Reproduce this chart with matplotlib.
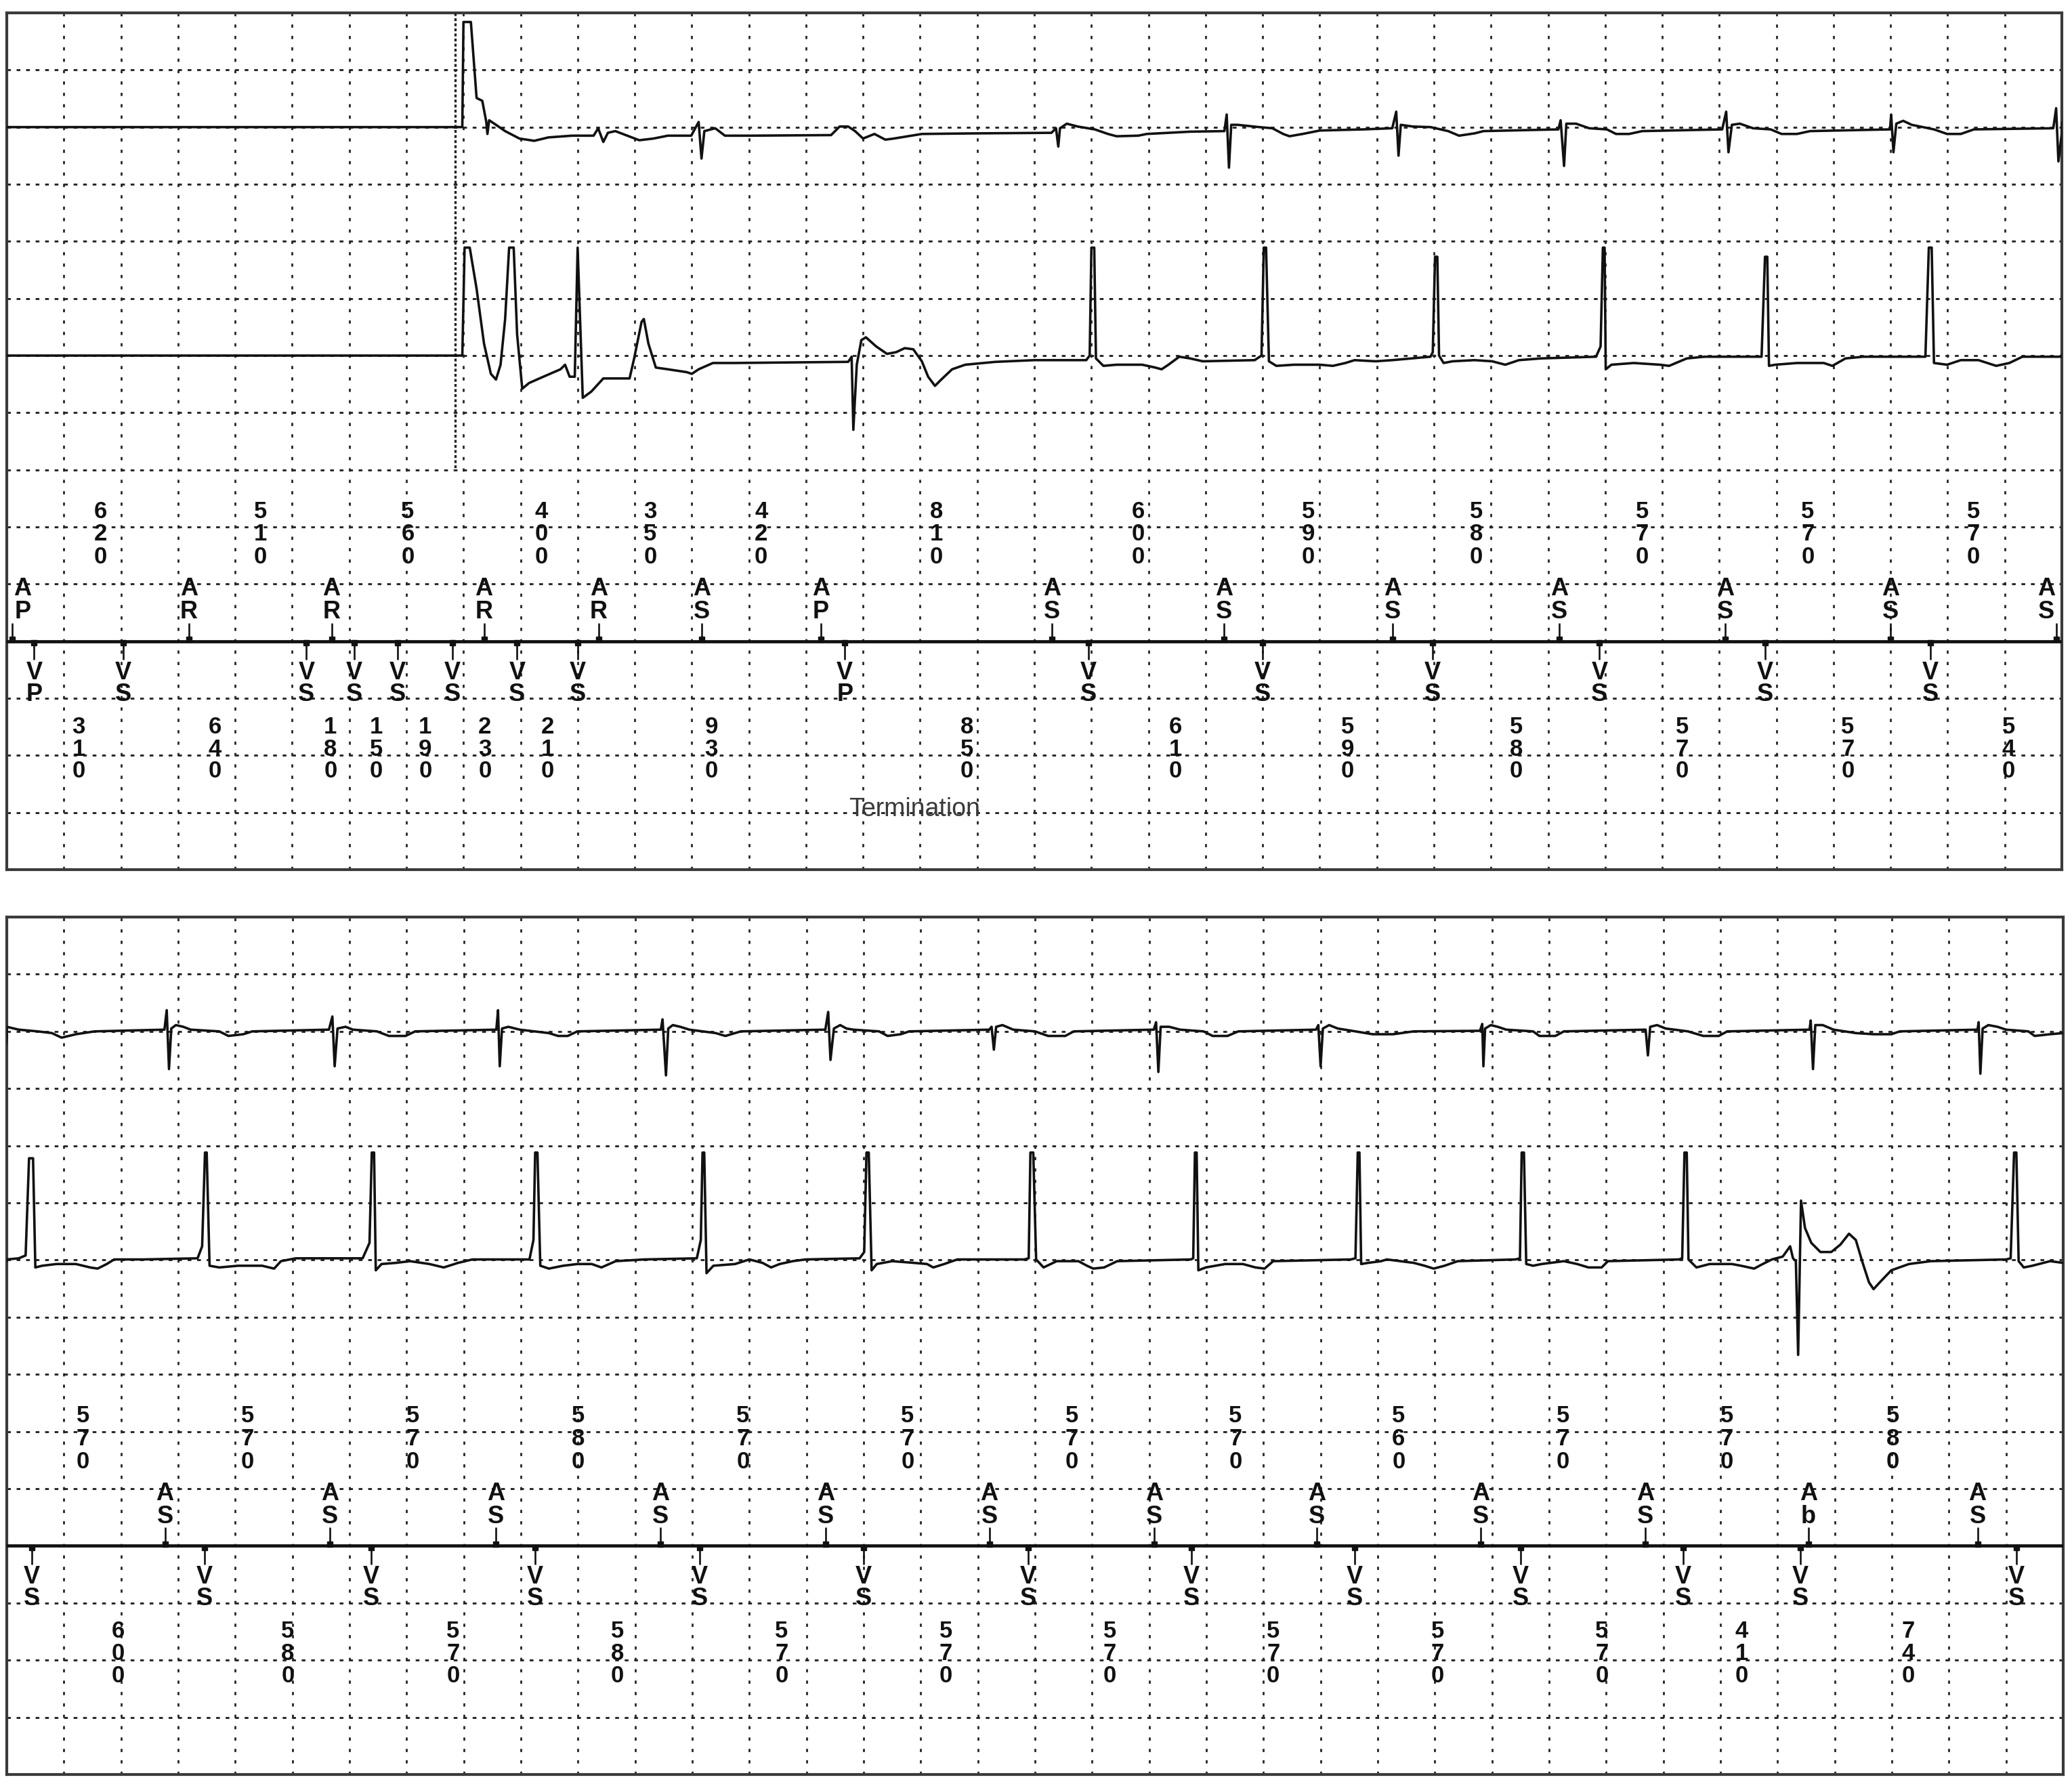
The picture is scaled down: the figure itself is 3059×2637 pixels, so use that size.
import matplotlib
matplotlib.use("Agg")
import matplotlib.pyplot as plt
from matplotlib import font_manager as fm

plt.rcParams["lines.scale_dashes"] = False

# ---------------- data (times in ms, 200 ms per grid division) ----------------
MS_PER_DIV = 200
STRIP_MS = 7200
STRIP_STARTS = [0, 7200]

# atrial marker channel
A_TIMES = [20, 638, 1138, 1672, 2074, 2434, 2852, 3662, 4264, 4856, 5440, 6020, 6600, 7180,
           7754, 8332, 8912, 9488, 10068, 10640, 11218, 11786, 12360, 12936, 13508, 14100]
A_CODES = ["P", "R", "R", "R", "R", "S", "P", "S", "S", "S", "S", "S", "S", "S",
           "S", "S", "S", "S", "S", "S", "S", "S", "S", "S", "b", "S"]
AA_LABELS = [620, 510, 560, 400, 350, 420, 810, 600, 590, 580, 570, 570, 570,
             570, 570, 570, 580, 570, 570, 570, 570, 560, 570, 570, 580]

# ventricular marker channel
V_TIMES = [96, 408, 1050, 1218, 1370, 1562, 1788, 2000, 2936, 3790, 4400, 4996, 5580, 6160, 6740,
           7288, 7892, 8476, 9050, 9626, 10200, 10776, 11348, 11920, 12500, 13070, 13480, 14236]
V_CODES = ["P", "S", "S", "S", "S", "S", "S", "S", "P", "S", "S", "S", "S", "S", "S",
           "S", "S", "S", "S", "S", "S", "S", "S", "S", "S", "S", "S", "S"]
VV_LABELS = [310, 640, 180, 150, 190, 230, 210, 930, 850, 610, 590, 580, 570, 570, 540,
             600, 580, 570, 580, 570, 570, 570, 570, 570, 570, 410, 740]

SHOCK_T = 1572
TERMINATION_T = 3180
ANNOTATION = "Termination"

# atrial EGM (time ms, amplitude in divisions, up = positive)
ATRIAL_EGM = [
    (0, 0), (1596, 0), (1600, 1.84), (1626, 1.84), (1646, 0.51), (1666, 0.46), (1680, 0.09),
    (1684, -0.12), (1690, 0.12), (1714, 0.04), (1746, -0.07), (1796, -0.2), (1848, -0.24),
    (1898, -0.18), (1980, -0.15), (2056, -0.15), (2072, -0.02), (2090, -0.26), (2106, -0.1),
    (2132, -0.07), (2216, -0.23), (2266, -0.2), (2316, -0.15), (2398, -0.15), (2424, 0.09),
    (2434, -0.55), (2444, -0.07), (2482, -0.02), (2516, -0.15), (2600, -0.15), (2888, -0.14),
    (2918, 0.01), (2948, 0.01), (2972, -0.07), (3000, -0.2), (3040, -0.12), (3078, -0.22),
    (3108, -0.2), (3206, -0.12), (3388, -0.11), (3660, -0.1), (3676, -0.02), (3684, -0.34),
    (3690, -0.02), (3714, 0.06), (3752, 0.01), (3812, -0.04), (3858, -0.12), (3888, -0.16),
    (3964, -0.15), (3994, -0.12), (4146, -0.08), (4266, -0.07), (4274, 0.22), (4282, -0.71),
    (4290, 0.04), (4312, 0.04), (4388, 0), (4434, -0.02), (4472, -0.12), (4494, -0.16),
    (4540, -0.12), (4600, -0.06), (4752, -0.04), (4854, -0.02), (4868, 0.27), (4876, -0.5),
    (4884, 0.04), (4926, 0.01), (4988, 0), (5050, -0.07), (5088, -0.15), (5142, -0.11),
    (5174, -0.07), (5436, -0.04), (5444, 0.12), (5456, -0.68), (5464, 0.06), (5498, 0.06),
    (5544, -0.02), (5606, -0.04), (5638, -0.12), (5684, -0.12), (5730, -0.07), (6010, -0.04),
    (6024, 0.27), (6032, -0.44), (6044, 0.04), (6072, 0.06), (6118, -0.02), (6180, -0.04),
    (6218, -0.12), (6272, -0.12), (6318, -0.07), (6598, -0.04), (6602, 0.22), (6610, -0.44),
    (6620, 0.06), (6644, 0.11), (6674, 0.04), (6752, -0.04), (6798, -0.12), (6846, -0.12),
    (6892, -0.04), (7170, -0.02), (7180, 0.33), (7188, -0.6), (7200, -0.1),
    (7200, 0.08), (7242, 0.03), (7308, 0), (7358, -0.03), (7392, -0.11), (7442, -0.05),
    (7508, 0), (7752, 0.03), (7760, 0.37), (7768, -0.66), (7776, 0.05), (7792, 0.11),
    (7818, 0.08), (7844, 0.03), (7944, 0), (7976, -0.08), (8028, -0.05), (8060, 0),
    (8328, 0.03), (8340, 0.26), (8348, -0.61), (8358, 0.05), (8386, 0.08), (8412, 0.03),
    (8496, 0), (8538, -0.08), (8596, -0.08), (8630, 0), (8914, 0.03), (8920, 0.37),
    (8926, -0.61), (8934, 0.05), (8956, 0.08), (8996, 0.03), (9098, -0.03), (9130, -0.08),
    (9164, -0.08), (9198, 0), (9490, 0.03), (9496, 0.21), (9508, -0.77), (9516, 0.05),
    (9532, 0.11), (9558, 0.08), (9590, 0.03), (9682, -0.03), (9716, -0.08), (9770, 0),
    (10066, 0.03), (10076, 0.34), (10084, -0.5), (10096, 0.05), (10118, 0.11), (10140, 0.05),
    (10164, 0.03), (10254, 0), (10284, -0.08), (10330, -0.05), (10360, 0), (10640, 0.03),
    (10648, 0.08), (10656, -0.32), (10664, 0.08), (10686, 0.11), (10724, 0.03), (10800, 0),
    (10846, -0.08), (10906, -0.08), (10936, 0), (11216, 0.03), (11224, 0.16), (11232, -0.71),
    (11240, 0.08), (11270, 0.08), (11308, 0.03), (11390, 0), (11422, -0.08), (11474, -0.08),
    (11512, 0), (11784, 0.03), (11792, 0.11), (11800, -0.61), (11808, 0.05), (11830, 0.11),
    (11860, 0.05), (11922, 0), (11982, -0.05), (12054, -0.05), (12126, 0), (12358, 0.01),
    (12366, 0.13), (12370, -0.61), (12376, 0.05), (12396, 0.11), (12420, 0.08), (12450, 0.03),
    (12544, 0), (12566, -0.08), (12622, -0.08), (12652, 0), (12938, 0.03), (12946, -0.42),
    (12954, 0.08), (12978, 0.11), (13008, 0.05), (13086, 0), (13140, -0.08), (13194, -0.08),
    (13224, 0), (13512, 0.03), (13516, 0.19), (13524, -0.66), (13532, 0.11), (13558, 0.11),
    (13596, 0.03), (13674, -0.03), (13736, -0.05), (13798, -0.05), (13828, 0), (14100, 0.03),
    (14104, 0.16), (14110, -0.74), (14118, 0.05), (14138, 0.11), (14170, 0.08), (14200, 0.03),
    (14278, 0), (14300, -0.08), (14354, -0.05), (14400, -0.03),
]

# ventricular EGM (time ms, amplitude in divisions)
VENT_EGM = [
    (0, 0), (1596, 0), (1604, 1.89), (1622, 1.89), (1646, 1.17), (1672, 0.21), (1696, -0.32),
    (1714, -0.42), (1730, -0.16), (1746, 0.64), (1760, 1.89), (1776, 1.89), (1788, 0.37),
    (1806, -0.58), (1830, -0.48), (1880, -0.37), (1940, -0.24), (1956, -0.16), (1972, -0.37),
    (1990, -0.37), (2000, 1.89), (2018, -0.74), (2048, -0.63), (2090, -0.4), (2182, -0.4),
    (2198, -0.05), (2224, 0.59), (2232, 0.64), (2248, 0.21), (2274, -0.21), (2316, -0.24),
    (2382, -0.29), (2400, -0.32), (2424, -0.24), (2474, -0.13), (2550, -0.13), (2948, -0.11),
    (2960, -0.02), (2966, -1.3), (2978, -0.16), (2994, 0.27), (3010, 0.32), (3046, 0.16),
    (3084, 0.03), (3116, 0.06), (3146, 0.13), (3176, 0.11), (3206, -0.1), (3228, -0.37),
    (3252, -0.53), (3274, -0.42), (3312, -0.24), (3358, -0.16), (3464, -0.11), (3600, -0.08),
    (3782, -0.08), (3794, 0), (3800, 1.89), (3810, 1.89), (3816, -0.05), (3842, -0.18),
    (3888, -0.16), (3978, -0.16), (4024, -0.21), (4046, -0.24), (4070, -0.16), (4108, -0.02),
    (4146, -0.05), (4190, -0.1), (4372, -0.08), (4396, 0), (4404, 1.89), (4412, 1.89),
    (4422, -0.1), (4448, -0.18), (4510, -0.16), (4600, -0.16), (4646, -0.18), (4690, -0.13),
    (4722, -0.08), (4796, -0.1), (4854, -0.08), (4988, -0.02), (4996, 0.06), (5004, 1.73),
    (5012, 1.73), (5018, 0), (5034, -0.13), (5066, -0.1), (5142, -0.08), (5204, -0.1),
    (5250, -0.16), (5298, -0.08), (5374, -0.05), (5568, -0.02), (5584, 0.16), (5592, 1.89),
    (5598, 1.89), (5602, -0.24), (5622, -0.16), (5700, -0.13), (5792, -0.16), (5824, -0.18),
    (5886, -0.05), (5948, -0.02), (6148, -0.02), (6160, 1.73), (6168, 1.73), (6174, -0.18),
    (6196, -0.16), (6272, -0.13), (6366, -0.13), (6396, -0.18), (6442, -0.05), (6504, -0.02),
    (6722, -0.02), (6734, 1.89), (6744, 1.89), (6752, -0.13), (6798, -0.16), (6846, -0.08),
    (6908, -0.08), (6970, -0.18), (7016, -0.13), (7062, -0.02), (7200, -0.02),
    (7200, 0.01), (7242, 0.03), (7266, 0.08), (7278, 1.78), (7292, 1.78), (7300, -0.13),
    (7324, -0.1), (7374, -0.07), (7442, -0.07), (7492, -0.13), (7518, -0.15), (7550, -0.07),
    (7576, 0.01), (7676, 0.01), (7868, 0.03), (7884, 0.24), (7894, 1.88), (7900, 1.88),
    (7910, -0.1), (7944, -0.13), (8010, -0.1), (8094, -0.1), (8136, -0.15), (8160, -0.02),
    (8212, 0.03), (8446, 0.03), (8470, 0.3), (8478, 1.88), (8486, 1.88), (8492, -0.18),
    (8512, -0.07), (8562, -0.05), (8612, -0.02), (8680, -0.07), (8730, -0.13), (8780, -0.05),
    (8830, 0.01), (9030, 0.01), (9044, 0.35), (9050, 1.88), (9058, 1.88), (9068, -0.1),
    (9098, -0.15), (9148, -0.1), (9198, -0.07), (9248, -0.07), (9282, -0.13), (9332, -0.02),
    (9432, 0.01), (9616, 0.03), (9630, 0.35), (9636, 1.88), (9642, 1.88), (9650, -0.23),
    (9674, -0.1), (9750, -0.07), (9800, 0.01), (9846, -0.05), (9876, -0.13), (9906, -0.07),
    (9952, -0.02), (9996, 0.01), (10186, 0.03), (10202, 0.14), (10210, 1.88), (10218, 1.88),
    (10228, -0.18), (10246, -0.07), (10300, -0.02), (10376, -0.05), (10422, -0.07),
    (10444, -0.13), (10482, -0.07), (10528, 0.01), (10762, 0.01), (10778, 0.03), (10784, 1.88),
    (10794, 1.88), (10804, 0.01), (10830, -0.13), (10876, -0.02), (10952, -0.02), (10982, -0.1),
    (11004, -0.15), (11042, -0.13), (11088, -0.02), (11346, 0.01), (11354, 0.03), (11360, 1.88),
    (11366, 1.88), (11372, -0.18), (11398, -0.13), (11466, -0.07), (11528, -0.07),
    (11572, -0.13), (11604, -0.15), (11634, -0.02), (11906, 0.01), (11922, 0.03), (11930, 1.88),
    (11936, 1.88), (11942, -0.07), (11966, -0.05), (12012, -0.02), (12032, 0.01),
    (12126, -0.05), (12164, -0.1), (12196, -0.15), (12234, -0.1), (12280, -0.02), (12482, 0.01),
    (12498, 0.03), (12504, 1.88), (12512, 1.88), (12520, -0.07), (12544, -0.1), (12574, -0.07),
    (12652, -0.02), (12698, -0.07), (12738, -0.13), (12784, -0.13), (12806, -0.02),
    (13054, 0.01), (13066, 0.03), (13074, 1.88), (13082, 1.88), (13088, 0.01), (13116, -0.13),
    (13162, -0.07), (13240, -0.07), (13272, -0.1), (13318, -0.15), (13348, -0.07), (13380, 0.01),
    (13418, 0.06), (13444, 0.24), (13454, 0.03), (13464, -0.02), (13472, -1.66), (13482, 1.04),
    (13496, 0.56), (13518, 0.3), (13550, 0.14), (13588, 0.14), (13620, 0.27), (13650, 0.46),
    (13674, 0.35), (13696, -0.02), (13720, -0.39), (13736, -0.51), (13758, -0.39),
    (13798, -0.18), (13860, -0.07), (13936, -0.02), (14200, 0.01), (14216, 0.03), (14228, 1.88),
    (14236, 1.88), (14244, -0.02), (14262, -0.13), (14292, -0.1), (14354, -0.02), (14400, -0.05),
]

# ---------------- layout / style ----------------
W, H, DPI = 3059, 2637, 100
N_ROWS = 15
ATRIAL_BASE, VENT_BASE, MARKER_AXIS = 2, 6, 11
ROW_A_LETTER, ROW_A_CODE, ROW_A_STEM = 10.09, 10.49, 10.68
ROW_V_LETTER, ROW_V_CODE, ROW_V_STEM = 11.55, 11.93, 11.33
ROWS_AA = [8.73, 9.13, 9.53]
ROWS_VV = [12.50, 12.89, 13.28]
ROW_TERM = 13.94
EDGE_PAD = 55  # ms kept between a label centre and the strip edge
GRID_C = "#262626"
INK = "#111111"

names = {f.name for f in fm.fontManager.ttflist}
if "Liberation Sans Narrow" in names:
    LABEL_FONT = ["Liberation Sans Narrow", "DejaVu Sans"]
    DIGIT_SIZE, LETTER_SIZE = 26, 27
elif "Liberation Sans" in names:
    LABEL_FONT = ["Liberation Sans", "DejaVu Sans"]
    DIGIT_SIZE, LETTER_SIZE = 25, 26
else:
    LABEL_FONT = ["DejaVu Sans"]
    DIGIT_SIZE, LETTER_SIZE = 23, 24
PLAIN = ["Liberation Sans", "DejaVu Sans"]

fig = plt.figure(figsize=(W / DPI, H / DPI), dpi=DPI)
fig.patch.set_facecolor("white")
boxes = [[10 / W, 1 - 1284 / H, 3034 / W, 1265 / H],
         [10 / W, 1 - 2620 / H, 3036 / W, 1266 / H]]

a_t, a_amp = zip(*ATRIAL_EGM)
v_t, v_amp = zip(*VENT_EGM)


def put(ax, x, y, s, size):
    ax.text(x, y, s, ha="center", va="center", fontsize=size, fontweight="bold",
            color=INK, clip_on=True, zorder=5, family=LABEL_FONT)


for box, t0 in zip(boxes, STRIP_STARTS):
    ax = fig.add_axes(box)
    t1 = t0 + STRIP_MS
    ax.set_xlim(t0, t1)
    ax.set_ylim(N_ROWS, 0)
    ax.set_xticks(range(t0 + MS_PER_DIV, t1, MS_PER_DIV))
    ax.set_yticks(range(1, N_ROWS))
    ax.tick_params(length=0, labelbottom=False, labelleft=False)
    ax.xaxis.grid(True, color=GRID_C, lw=2.0, linestyle=(0, (3.4, 8.7)))
    ax.yaxis.grid(True, color=GRID_C, lw=2.1, linestyle=(0, (4.0, 6.1)))
    ax.set_axisbelow(True)
    for sp in ax.spines.values():
        sp.set_color("#3a3a3a")
        sp.set_linewidth(3.0)

    def inside(t):
        return t0 <= t <= t1

    def xpos(t):
        return min(max(t, t0 + EDGE_PAD), t1 - EDGE_PAD)

    # EGM traces
    ax.plot(a_t, [ATRIAL_BASE - v for v in a_amp], color=INK, lw=2.6, zorder=4,
            solid_joinstyle="round")
    ax.plot(v_t, [VENT_BASE - v for v in v_amp], color=INK, lw=2.6, zorder=4,
            solid_joinstyle="round")

    # marker channel axis
    ax.axhline(MARKER_AXIS, color=INK, lw=3.4, zorder=4)

    # atrial markers
    ax.vlines(A_TIMES, ROW_A_STEM, MARKER_AXIS, color=INK, lw=1.9, zorder=4)
    ax.plot(A_TIMES, [MARKER_AXIS - 0.03] * len(A_TIMES), "s", ms=5.5, color=INK, zorder=4)
    for t, c in zip(A_TIMES, A_CODES):
        if inside(t):
            put(ax, xpos(t), ROW_A_LETTER, "A", LETTER_SIZE)
            put(ax, xpos(t), ROW_A_CODE, c, LETTER_SIZE)

    # ventricular markers
    ax.vlines(V_TIMES, MARKER_AXIS, ROW_V_STEM, color=INK, lw=1.9, zorder=4)
    ax.plot(V_TIMES, [MARKER_AXIS + 0.03] * len(V_TIMES), "s", ms=5.5, color=INK, zorder=4)
    for t, c in zip(V_TIMES, V_CODES):
        if inside(t):
            put(ax, xpos(t), ROW_V_LETTER, "V", LETTER_SIZE)
            put(ax, xpos(t), ROW_V_CODE, c, LETTER_SIZE)

    # interval labels (stacked digits at interval midpoints)
    for i, val in enumerate(AA_LABELS):
        xm = (A_TIMES[i] + A_TIMES[i + 1]) / 2
        if inside(xm):
            for ch, r in zip(str(val), ROWS_AA):
                put(ax, xpos(xm), r, ch, DIGIT_SIZE)
    for i, val in enumerate(VV_LABELS):
        xm = (V_TIMES[i] + V_TIMES[i + 1]) / 2
        if inside(xm):
            for ch, r in zip(str(val), ROWS_VV):
                put(ax, xpos(xm), r, ch, DIGIT_SIZE)

    if inside(SHOCK_T):
        ax.vlines([SHOCK_T], 0, 8, color="#222222", lw=2.4, linestyles=[(0, (3.0, 2.4))],
                  zorder=3)
    if inside(TERMINATION_T):
        ax.text(TERMINATION_T, ROW_TERM, ANNOTATION, ha="center", va="center", fontsize=27,
                color="#3a3a3a", family=PLAIN, zorder=5)

fig.savefig("out.png", dpi=DPI, facecolor="white")
